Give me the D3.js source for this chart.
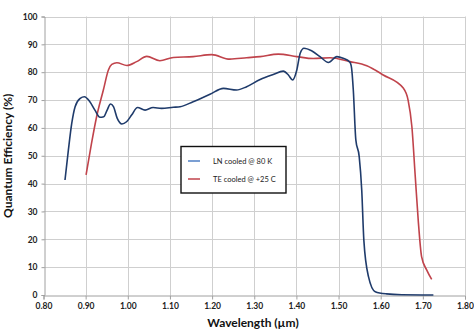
<!DOCTYPE html>
<html><head><meta charset="utf-8">
<script src="https://cdn.jsdelivr.net/npm/d3@7"></script>
<style>html,body{margin:0;padding:0;background:#fff;}</style>
</head><body>
<svg id="chart" width="474" height="332"></svg>
<script>
const xTicks = [0.80,0.90,1.00,1.10,1.20,1.30,1.40,1.50,1.60,1.70,1.80];
const yTicks = [0,10,20,30,40,50,60,70,80,90,100];
const seriesNames = ["LN cooled @ 80 K", "TE cooled @ +25 C"];
const lnWavelength = [0.851,0.859,0.867,0.875,0.887,0.897,0.910,0.922,0.934,0.943,0.951,0.959,0.966,0.975,0.986,0.997,1.009,1.023,1.041,1.060,1.080,1.108,1.124,1.155,1.195,1.227,1.258,1.282,1.314,1.345,1.369,1.381,1.391,1.401,1.409,1.418,1.436,1.456,1.476,1.496,1.511,1.527,1.531,1.535,1.541,1.549,1.555,1.560,1.571,1.587,1.614,1.650,1.725];
const lnQE = [41.3,52.0,61.6,67.6,70.6,71.2,69.4,66.4,63.8,64.0,66.4,68.6,67.6,63.4,61.4,62.2,64.6,67.3,66.4,67.3,67.0,67.4,67.6,69.4,72.1,74.2,73.6,74.8,77.4,79.2,80.4,79.0,77.2,80.8,86.8,88.6,87.7,85.6,83.5,85.6,85.0,83.6,81.4,73.6,55.7,49.7,37.7,19.7,6.6,1.2,0.4,0.1,0.0];
const teWavelength = [0.901,0.914,0.926,0.942,0.954,0.962,0.974,0.998,1.021,1.045,1.076,1.108,1.155,1.199,1.242,1.282,1.314,1.357,1.401,1.440,1.480,1.527,1.567,1.606,1.654,1.665,1.674,1.682,1.689,1.697,1.709,1.721];
const teQE = [43.1,54.5,64.0,73.6,80.8,82.8,83.4,82.4,83.8,85.7,84.1,85.3,85.6,86.3,84.7,85.2,85.6,86.5,85.6,84.9,85.2,83.8,82.3,79.0,74.2,70.0,60.4,42.5,26.9,13.8,9.0,5.6];

const svg = d3.select("#chart");
const pL = 43.5, pR = 465, pT = 16.5, pB = 295;
const x = d3.scaleLinear().domain([0.8,1.8]).range([pL,pR]);
const y = d3.scaleLinear().domain([0,100]).range([pB,pT]);
const font = "Lato, 'Open Sans', sans-serif";

// grid
svg.append("g").selectAll("line").data(xTicks.slice(1)).join("line")
  .attr("x1",d=>Math.round(x(d))+0.5).attr("x2",d=>Math.round(x(d))+0.5)
  .attr("y1",y(100)).attr("y2",y(0)).attr("stroke","#cfcfcf").attr("stroke-width",1);
svg.append("g").selectAll("line").data(yTicks.slice(1)).join("line")
  .attr("x1",x(0.8)).attr("x2",x(1.8))
  .attr("y1",d=>Math.round(y(d))+0.5).attr("y2",d=>Math.round(y(d))+0.5)
  .attr("stroke","#cfcfcf").attr("stroke-width",1);

// axes
const xAxis = svg.append("g").attr("transform",`translate(0,${Math.round(y(0))+0.5})`)
  .call(d3.axisBottom(x).tickValues(xTicks).tickFormat(d3.format(".2f")).tickSize(4).tickPadding(3));
const yAxis = svg.append("g").attr("transform",`translate(${Math.round(x(0.8))+0.5},0)`)
  .call(d3.axisLeft(y).tickValues(yTicks).tickSize(3).tickPadding(4));
[xAxis,yAxis].forEach(a=>{
  a.select(".domain").attr("stroke","#a0a0a0");
  a.selectAll(".tick line").attr("stroke","#a0a0a0");
  a.selectAll("text").attr("font-family",font).attr("font-size",8.5).attr("font-weight","bold").attr("fill","#222");
});

// lines
const line = d3.line().x(d=>x(d[0])).y(d=>y(d[1])).curve(d3.curveMonotoneX);
svg.append("path").datum(teWavelength.map((w,i)=>[w,teQE[i]]))
  .attr("d",line).attr("fill","none").attr("stroke","#c0434b").attr("stroke-width",1.6);
svg.append("path").datum(lnWavelength.map((w,i)=>[w,lnQE[i]]))
  .attr("d",line).attr("fill","none").attr("stroke","#1f3b6b").attr("stroke-width",1.6);

// legend
const lg = svg.append("g");
lg.append("rect").attr("x",181).attr("y",146.5).attr("width",105).attr("height",46.5)
  .attr("fill","#fff").attr("stroke","#111").attr("stroke-width",1.4);
const legColors = ["#4f7fc4","#c0434b"];
seriesNames.forEach((n,i)=>{
  const yy = 161 + i*18;
  lg.append("line").attr("x1",188).attr("x2",200).attr("y1",yy).attr("y2",yy)
    .attr("stroke",legColors[i]).attr("stroke-width",1.5);
  lg.append("text").attr("x",213).attr("y",yy).attr("dy","0.35em")
    .attr("font-family",font).attr("font-size",7.5).attr("fill","#222").text(n);
});

// titles
svg.append("text").attr("x",253).attr("y",327).attr("text-anchor","middle")
  .attr("font-family",font).attr("font-size",12).attr("font-weight","bold").attr("fill","#111")
  .text("Wavelength (µm)");
svg.append("text").attr("transform",`translate(12,${(pT+pB)/2}) rotate(-90)`)
  .attr("text-anchor","middle").attr("font-family",font).attr("font-size",12).attr("font-weight","bold").attr("fill","#111")
  .text("Quantum Efficiency (%)");
</script>
</body></html>
